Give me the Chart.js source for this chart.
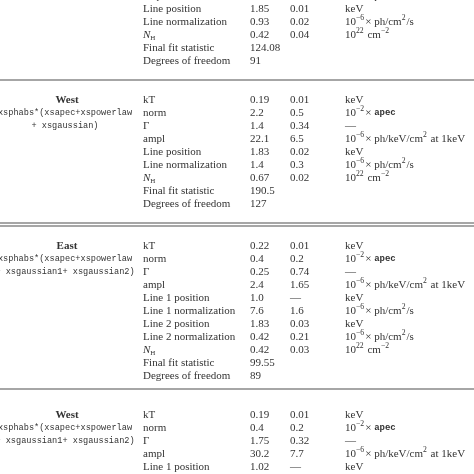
<!DOCTYPE html>
<html><head><meta charset="utf-8">
<script src="https://cdn.jsdelivr.net/npm/chart.js@4"></script>
<style>html,body{margin:0;padding:0;background:#fff}#w{width:474px;height:474px}</style>
</head><body><div id="w"><canvas id="c"></canvas></div>
<script>
// Blocks of the table
const blockNames = ["", "West", "East", "West"];
const blockModels = [[], ["xsphabs*(xsapec+xspowerlaw", "+ xsgaussian)"],
  ["xsphabs*(xsapec+xspowerlaw", "+ xsgaussian1+ xsgaussian2)"],
  ["xsphabs*(xsapec+xspowerlaw", "+ xsgaussian1+ xsgaussian2)"]];
const blockTop = [-4, 100, 246, 415];
const params = [
  ["ampl","Line position","Line normalization","N_H","Final fit statistic","Degrees of freedom"],
  ["kT","norm","Γ","ampl","Line position","Line normalization","N_H","Final fit statistic","Degrees of freedom"],
  ["kT","norm","Γ","ampl","Line 1 position","Line 1 normalization","Line 2 position","Line 2 normalization","N_H","Final fit statistic","Degrees of freedom"],
  ["kT","norm","Γ","ampl","Line 1 position"]];
const values = [
  ["","1.85","0.93","0.42","124.08","91"],
  ["0.19","2.2","1.4","22.1","1.83","1.4","0.67","190.5","127"],
  ["0.22","0.4","0.25","2.4","1.0","7.6","1.83","0.42","0.42","99.55","89"],
  ["0.19","0.4","1.75","30.2","1.02"]];
const errors = [
  ["","0.01","0.02","0.04","",""],
  ["0.01","0.5","0.34","6.5","0.02","0.3","0.02","",""],
  ["0.01","0.2","0.74","1.65","—","1.6","0.03","0.21","0.03","",""],
  ["0.01","0.2","0.32","7.7","—"]];
const U1="keV", U2="10^{−2}× apec", U3="—", U4="10^{−6}× ph/keV/cm^{2} at 1keV", U5="10^{−6}× ph/cm^{2}/s", U6="10^{22} cm^{−2}";
const units = [
  [U4,U1,U5,U6,"",""],
  [U1,U2,U3,U4,U1,U5,U6,"",""],
  [U1,U2,U3,U4,U1,U5,U1,U5,U6,"",""],
  [U1,U2,U3,U4,U1]];
const ruleY = [[80],[223,226],[389]];
const ROW = 13;
const colX = [143, 250, 290, 345];

const serif = '"Liberation Serif","DejaVu Serif",serif';
const mono = '"Liberation Mono","DejaVu Sans Mono",monospace';
function rich(ctx, s, x, y, size){
  const parts = s.split(/(\^\{[^}]*\})/);
  for (const p of parts){
    if (!p) continue;
    if (p.startsWith("^{")){
      const t = p.slice(2,-1);
      ctx.font = (size*0.7)+"px "+serif;
      ctx.fillText(t, x, y-size*0.4); x += ctx.measureText(t).width+1;
    } else {
      let t=p;
      if (t.includes("apec")){
        const i=t.indexOf("apec");
        ctx.font=size+"px "+serif; ctx.fillText(t.slice(0,i),x,y); x+=ctx.measureText(t.slice(0,i)).width;
        ctx.font="bold "+(size-2)+"px "+mono; ctx.fillText("apec",x,y); x+=ctx.measureText("apec").width;
        continue;
      }
      ctx.font = size+"px "+serif;
      ctx.fillText(t, x, y); x += ctx.measureText(t).width;
    }
  }
}
const tablePlugin = {id:"table", afterDraw(chart){
  const ctx = chart.ctx, xs = chart.scales.x, ys = chart.scales.y;
  ctx.save(); ctx.fillStyle="#333"; ctx.textBaseline="middle";
  ctx.strokeStyle="#888"; ctx.lineWidth=1.5;
  ruleY.forEach(g=>g.forEach(v=>{ctx.beginPath();ctx.moveTo(xs.getPixelForValue(0),ys.getPixelForValue(v));ctx.lineTo(xs.getPixelForValue(474),ys.getPixelForValue(v));ctx.stroke();}));
  params.forEach((rows,b)=>{
    const top = blockTop[b];
    if (blockNames[b]){
      ctx.textAlign="center"; ctx.font="bold 11px "+serif;
      ctx.fillText(blockNames[b], xs.getPixelForValue(67), ys.getPixelForValue(top));
      ctx.font="8.6px "+mono;
      blockModels[b].forEach((m,i)=>ctx.fillText(m, xs.getPixelForValue(65), ys.getPixelForValue(top+(i+1)*ROW)));
    }
    ctx.textAlign="left";
    rows.forEach((p,i)=>{
      const y = ys.getPixelForValue(top+i*ROW);
      if (p==="N_H"){
        ctx.font="italic 11px "+serif; ctx.fillText("N",xs.getPixelForValue(colX[0]),y);
        const w=ctx.measureText("N").width; ctx.font="7px "+serif; ctx.fillText("H",xs.getPixelForValue(colX[0])+w,y+3);
      } else { ctx.font="11px "+serif; ctx.fillText(p, xs.getPixelForValue(colX[0]), y); }
      ctx.font="11px "+serif;
      ctx.fillText(values[b][i], xs.getPixelForValue(colX[1]), y);
      ctx.fillText(errors[b][i], xs.getPixelForValue(colX[2]), y);
      rich(ctx, units[b][i], xs.getPixelForValue(colX[3]), y, 11);
    });
  });
  ctx.restore();
}};
new Chart(document.getElementById("c"), {
  type:"scatter", data:{datasets:[{data:[]}]},
  options:{responsive:true, maintainAspectRatio:false, animation:false,
    layout:{padding:0},
    plugins:{legend:{display:false}, tooltip:{enabled:false}},
    scales:{x:{type:"linear",min:0,max:474,display:false},
            y:{type:"linear",min:0,max:474,reverse:true,display:false}}},
  plugins:[tablePlugin]
});
</script></body></html>
